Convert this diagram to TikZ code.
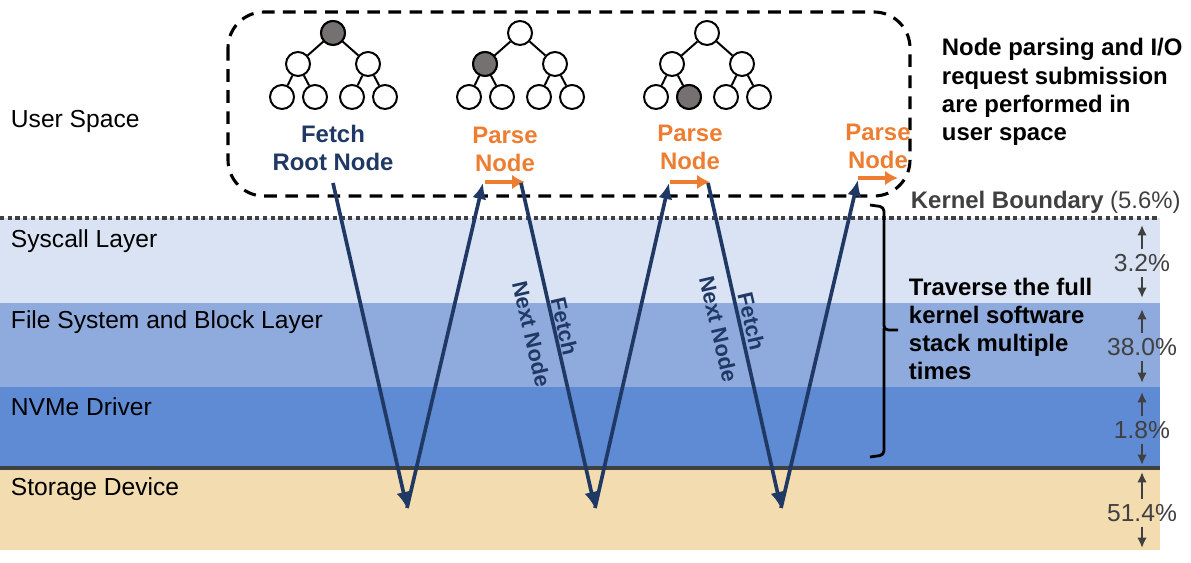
\documentclass[tikz,border=0pt]{standalone}
\usepackage{fontspec}
\setmainfont{Liberation Sans}
\usetikzlibrary{arrows.meta}
\definecolor{navy}{HTML}{203864}
\definecolor{orng}{HTML}{ED7D31}
\definecolor{darkg}{HTML}{404040}
\definecolor{shade}{HTML}{767171}
\definecolor{sysc}{HTML}{DAE3F3}
\definecolor{fsbl}{HTML}{8FAADC}
\definecolor{nvme}{HTML}{5F8AD4}
\definecolor{stor}{HTML}{F2DCB0}
\tikzstyle{tnode}=[circle,draw=black,fill=white,line width=1.4pt,minimum size=0.6cm,inner sep=0pt]
\tikzstyle{layer}=[anchor=west,font=\fontsize{17.5}{20}\selectfont]
\tikzstyle{steplabel}=[align=center,font=\fontsize{17}{20}\selectfont\bfseries]
\tikzstyle{hop}=[draw=navy,line width=2.6pt,-{Latex[length=4mm,width=3.5mm]}]
\tikzstyle{pct}=[text=darkg,font=\fontsize{17.5}{20}\selectfont]
\tikzstyle{pctarrow}=[darkg,line width=1.6pt,-{Latex[length=2.6mm,width=2.4mm]}]

\begin{document}
\begin{tikzpicture}[x=0.025cm,y=-0.025cm]
  \useasboundingbox (0,0) rectangle (1191,563);
  % layers
  \fill[sysc] (0,218) rectangle (1160,303);
  \fill[fsbl] (0,303) rectangle (1160,387);
  \fill[nvme] (0,387) rectangle (1160,468);
  \fill[stor] (0,468) rectangle (1160,550);
  \draw[darkg,line width=3pt] (0,468) -- (1160,468);
  \draw[darkg,line width=3pt,dash pattern=on 3pt off 2.5pt] (0,218) -- (1160,218);

  \node[layer] (user) at (6,121) {User Space};
  \node[layer] (sys) at (6,241) {Syscall Layer};
  \node[layer] (fs) at (6,322) {File System and Block Layer};
  \node[layer] (nv) at (6,407) {NVMe Driver};
  \node[layer] (st) at (6,489) {Storage Device};

  % user space box
  \draw[line width=2.2pt,dash pattern=on 9pt off 6pt,rounded corners=0.9cm]
    (228,12) rectangle (910,196);

  % trees
  \foreach \t/\x/\s in {1/333/r,2/520/a,3/707/d} {
    \node[tnode] (t\t r) at (\x,33) {};
    \node[tnode] (t\t a) at (\x-35,64) {};
    \node[tnode] (t\t b) at (\x+35,64) {};
    \node[tnode] (t\t c) at (\x-51,97) {};
    \node[tnode] (t\t d) at (\x-18,97) {};
    \node[tnode] (t\t e) at (\x+19,97) {};
    \node[tnode] (t\t f) at (\x+52,97) {};
    \draw[line width=1.4pt] (t\t r) -- (t\t a) (t\t r) -- (t\t b)
      (t\t a) -- (t\t c) (t\t a) -- (t\t d) (t\t b) -- (t\t e) (t\t b) -- (t\t f);
    \node[tnode,fill=shade] at (t\t \s) {};
  }

  \node[steplabel,text=navy] (fetch) at (333,148) {Fetch\\Root Node};
  \node[steplabel,text=orng] (parse1) at (505,149) {Parse\\Node};
  \node[steplabel,text=orng] (parse2) at (690,147) {Parse\\Node};
  \node[steplabel,text=orng] (parse3) at (878,146) {Parse\\Node};

  % next-node arrows
  \foreach \a/\b/\y in {485/525/182,670/710/182,858/898/178} {
    \draw[orng,line width=2.8pt,-{Latex[length=3.2mm,width=3.6mm]}] (\a,\y) -- (\b,\y);
  }

  % zigzag
  \coordinate (s0) at (333,183);
  \coordinate (b1) at (407,508);
  \coordinate (u1) at (483,183);
  \coordinate (s1) at (521,183);
  \coordinate (b2) at (595,508);
  \coordinate (u2) at (669,183);
  \coordinate (s2) at (708,183);
  \coordinate (b3) at (781,508);
  \coordinate (u3) at (858,180);
  \draw[hop] (s0) -- (b1);
  \draw[hop] (b1) -- (u1);
  \draw[hop] (s1) -- (b2);
  \draw[hop] (b2) -- (u2);
  \draw[hop] (s2) -- (b3);
  \draw[hop] (b3) -- (u3);

  \node[steplabel,text=navy,rotate=-77,font=\fontsize{15.5}{24}\selectfont\bfseries]
    (next1) at (548,330) {Fetch\\Next Node};
  \node[steplabel,text=navy,rotate=-77,font=\fontsize{15.5}{24}\selectfont\bfseries]
    (next2) at (735,325) {Fetch\\Next Node};

  % right side
  \node[steplabel,align=left,anchor=west] (note) at (937,92)
    {Node parsing and I/O\\request submission\\are performed in\\user space};
  \node[anchor=west,font=\fontsize{17}{20}\selectfont,text=darkg] (kb) at (906,202)
    {\textbf{Kernel Boundary} (5.6\%)};
  \draw[line width=2pt,rounded corners=3pt] (870,205) -- (884,207) -- (884,330) -- (898,330);
  \draw[line width=2pt,rounded corners=3pt] (884,328) -- (884,455) -- (870,457);
  \node[steplabel,align=left,anchor=west] (trav) at (904,329)
    {Traverse the full\\kernel software\\stack multiple\\times};

  \foreach \y/\p/\tp/\bt in {263/3.2/225/298,347/38.0/309/383,430/1.8/392/465,513/51.4/472/548} {
    \node[pct] (p\y) at (1142,\y) {\p\%};
    \draw[pctarrow] (p\y.north) -- (1142,\tp);
    \draw[pctarrow] (p\y.south) -- (1142,\bt);
  }
\end{tikzpicture}
\end{document}
